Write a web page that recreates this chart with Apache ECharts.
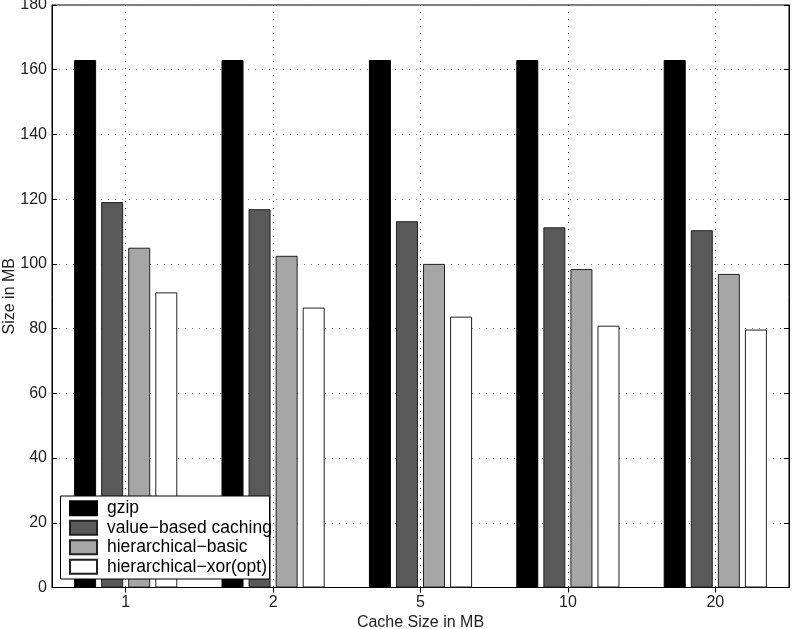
<!DOCTYPE html>
<html lang="en">
  <head>
    <meta charset="UTF-8" />
    <title>cache size chart</title>
    <script src="https://cdn.jsdelivr.net/npm/echarts@6/dist/echarts.min.js"></script>
    <style>
      html, body { margin: 0; padding: 0; background: #fff; }
      #main { width: 793px; height: 629px; }
    </style>
  </head>
  <body>
    <div id="main"></div>
    <script>
      // data
      var categories = ["1", "2", "5", "10", "20"];
      var gzip = [163, 163, 163, 163, 163];
      var valueCaching = [119.1, 116.9, 113.2, 111.3, 110.4];
      var hierBasic = [105.0, 102.5, 100.0, 98.4, 96.9];
      var hierXor = [91.2, 86.5, 83.7, 80.9, 79.7];
      var seriesNames = ["gzip", "value\u2212based caching", "hierarchical\u2212basic", "hierarchical\u2212xor(opt)"];
      var seriesColors = ["#000000", "#595959", "#a6a6a6", "#ffffff"];

      // helper axis with a point at every half category, for grid lines at centres
      var halfSteps = [];
      for (var i = 0; i <= categories.length * 2; i++) halfSteps.push(String(i));
      var oddOnly = function (idx) { return idx % 2 === 1; };

      var font = "Liberation Sans, Arial, sans-serif";
      var dottedH = { color: "#777", width: 1, type: [1, 6] };
      var dottedV = { color: "#333", width: 1, type: [1, 6] };

      var chart = echarts.init(document.getElementById("main"));
      var option = {
        animation: false,
        textStyle: { fontFamily: font },
        grid: {
          left: 52, right: 4, top: 5, bottom: 41.5,
          outerBoundsMode: "none",
          containLabel: false,
          show: true, borderColor: "#000", borderWidth: 1
        },
        legend: {
          orient: "vertical",
          left: 69,
          top: 498.5,
          padding: 0,
          itemWidth: 27,
          itemHeight: 14,
          itemGap: 0,
          icon: "rect",
          z: 10,
          data: seriesNames,
          textStyle: { fontSize: 17.5, color: "#000", lineHeight: 19.5, padding: [0, 0, 0, 5] }
        },
        graphic: [{
          type: "rect",
          z: 5,
          shape: { x: 60.5, y: 496, width: 209, height: 83 },
          style: { fill: "#fff", stroke: "#000", lineWidth: 1 }
        }],
        xAxis: [{
          type: "category",
          data: categories,
          name: "Cache Size in MB",
          nameLocation: "middle",
          nameGap: 27,
          nameMoveOverlap: false,
          nameTextStyle: { fontSize: 16, color: "#222" },
          axisLine: { lineStyle: { color: "#000" } },
          axisTick: { inside: true, alignWithLabel: true, length: 5, lineStyle: { color: "#000" } },
          axisLabel: { fontSize: 16, color: "#222", margin: 7 },
          splitLine: { show: false }
        }, {
          type: "category",
          position: "top",
          boundaryGap: false,
          data: halfSteps,
          axisLine: { show: false },
          axisLabel: { show: false },
          axisTick: { inside: true, length: 5, interval: oddOnly, lineStyle: { color: "#000" } },
          splitLine: { show: true, interval: oddOnly, lineStyle: dottedV }
        }],
        yAxis: [{
          type: "value",
          min: 0,
          max: 180,
          interval: 20,
          name: "Size in MB",
          nameLocation: "middle",
          nameGap: 34,
          nameMoveOverlap: false,
          nameTextStyle: { fontSize: 16, color: "#222" },
          axisLine: { show: true, lineStyle: { color: "#000" } },
          axisTick: { show: true, inside: true, length: 5, lineStyle: { color: "#000" } },
          axisLabel: { fontSize: 16, color: "#222", margin: 5, padding: [4, 0, 0, 0] },
          splitLine: { show: true, lineStyle: dottedH }
        }, {
          type: "value",
          position: "right",
          min: 0,
          max: 180,
          interval: 20,
          axisLine: { show: true, lineStyle: { color: "#000" } },
          axisTick: { show: true, inside: true, length: 5, lineStyle: { color: "#000" } },
          axisLabel: { show: false },
          splitLine: { show: false }
        }],
        series: [gzip, valueCaching, hierBasic, hierXor].map(function (vals, k) {
          return {
            name: seriesNames[k],
            type: "bar",
            xAxisIndex: 0,
            yAxisIndex: 0,
            barWidth: 22,
            barGap: "23%",
            data: vals,
            itemStyle: { color: seriesColors[k], borderColor: k === 0 ? "#000" : "#222", borderWidth: 1 }
          };
        })
      };
      chart.setOption(option);
    </script>
  </body>
</html>
